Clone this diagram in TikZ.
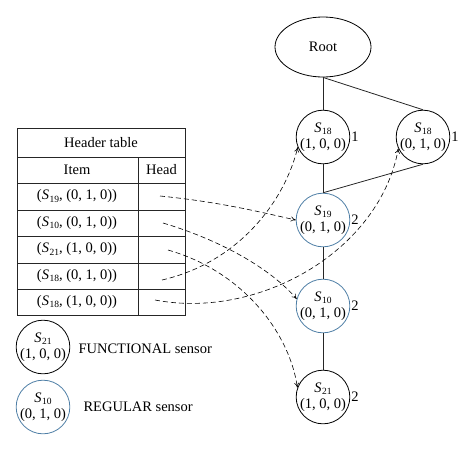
\documentclass[tikz,border=0pt]{standalone}
\usepackage{fontspec}
\setmainfont{Liberation Serif}
\usetikzlibrary{arrows.meta,shapes.geometric}
\newcommand{\Sn}[1]{\textit{S}\kern0.5pt\raisebox{-0.35ex}{\fontsize{9.5}{9.5}\selectfont #1}}
\definecolor{regblue}{HTML}{4F7FA6}
\begin{document}
\begin{tikzpicture}[x=1pt,y=-1pt,
  every node/.style={font=\fontsize{14.5}{17}\selectfont},
  sensor/.style={circle,draw,thick,minimum size=52pt,inner sep=0pt,align=center,font=\fontsize{14.5}{15.5}\selectfont},
  regular/.style={sensor,draw=regblue},
  edge/.style={thick,draw=black!85},
  link/.style={dash pattern=on 5pt off 3pt,line width=0.6pt,-{To[length=5pt,width=5pt]}},
  cnt/.style={anchor=west,inner sep=1pt},
  cell/.style={inner sep=0pt}]
\useasboundingbox (0,0) rectangle (474,448);
% tree
\node[ellipse,draw,thick,minimum width=96pt,minimum height=60pt,inner sep=0pt] (root) at (323,47) {Root};
\node[sensor] (s18a) at (323,137) {\Sn{18}\\(1, 0, 0)};
\node[sensor] (s18b) at (423,137) {\Sn{18}\\(0, 1, 0)};
\node[regular] (s19) at (323,220) {\Sn{19}\\(0, 1, 0)};
\node[regular] (s10) at (323,306) {\Sn{10}\\(0, 1, 0)};
\node[sensor] (s21) at (323,397) {\Sn{21}\\(1, 0, 0)};
\node[cnt] (c1) at (s18a.east) {1};
\node[cnt] (c2) at (s18b.east) {1};
\node[cnt] (c3) at (s19.east) {2};
\node[cnt] (c4) at (s10.east) {2};
\node[cnt] (c5) at (s21.east) {2};
\draw[edge] (root.south) -- (s18a.north);
\draw[edge] (root.south) -- (s18b.north);
\draw[edge] (s18a.south) -- (s19.north);
\draw[edge] (s19.north) -- (s18b.south);
\draw[edge] (s19.south) -- (s10.north);
\draw[edge] (s10.south) -- (s21.north);
% header table
\draw[thick,draw=black!85] (17,128) rectangle (185,315);
\foreach \yy in {157,183,210,236,263,289}{\draw[thick,draw=black!85] (17,\yy) -- (185,\yy);}
\draw[thick,draw=black!85] (138,157) -- (138,315);
\node[cell] (ht) at (101,142.5) {Header table};
\node[cell] (it) at (77,170) {Item};
\node[cell] (hd) at (161.5,170) {Head};
\node[cell] (r1) at (77,196.5) {(\Sn{19}, (0, 1, 0))};
\node[cell] (r2) at (77,223) {(\Sn{10}, (0, 1, 0))};
\node[cell] (r3) at (77,249.5) {(\Sn{21}, (1, 0, 0))};
\node[cell] (r4) at (77,276) {(\Sn{18}, (0, 1, 0))};
\node[cell] (r5) at (77,302) {(\Sn{18}, (1, 0, 0))};
\coordinate (h1) at (160,196);
\coordinate (h2) at (163,223);
\coordinate (h3) at (168,250);
\coordinate (h4) at (162,280);
\coordinate (h5) at (155,300);
% links
\draw[link] (h1) .. controls (220,202) and (260,212) .. (s19.west);
\draw[link] (h2) .. controls (220,240) and (270,268) .. (s10.165);
\draw[link] (h3) .. controls (245,272) and (290,335) .. (s21.160);
\draw[link] (h4) .. controls (240,262) and (285,200) .. (s18a.202);
\draw[link] (h5) .. controls (260,320) and (380,250) .. (s18b.205);
% legend
\node[sensor] (lf) at (43,347) {\Sn{21}\\(1, 0, 0)};
\node[anchor=west] (lft) at (75,349) {FUNCTIONAL sensor};
\node[regular] (lr) at (43,407) {\Sn{10}\\(0, 1, 0)};
\node[anchor=west] (lrt) at (80,407) {REGULAR sensor};
\end{tikzpicture}
\end{document}
